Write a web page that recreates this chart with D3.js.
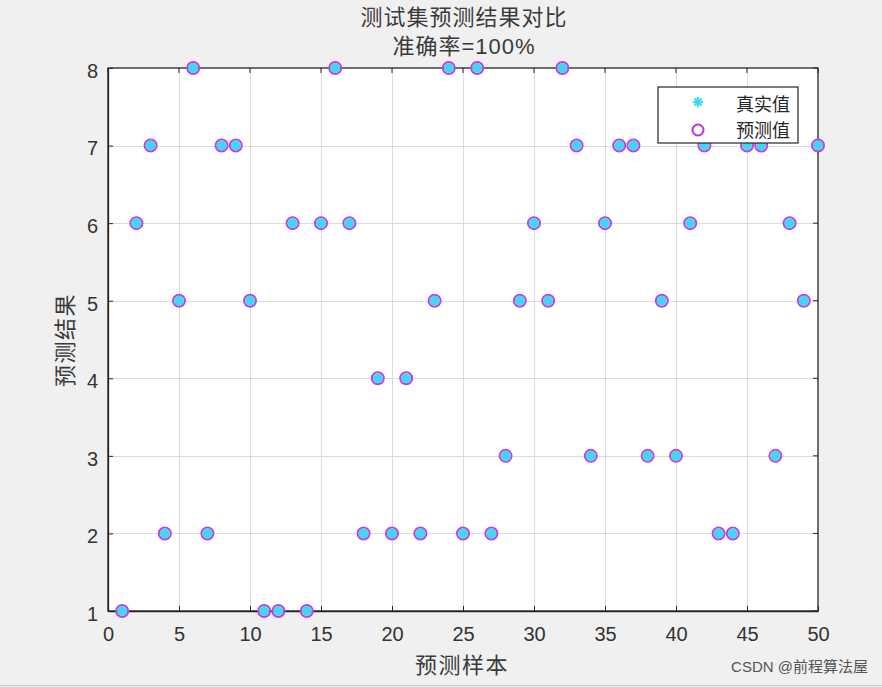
<!DOCTYPE html>
<html><head><meta charset="utf-8">
<script src="https://cdn.jsdelivr.net/npm/d3@7"></script>
<style>
body{margin:0;background:#f0f0f0;}
svg{display:block;}
</style></head>
<body><svg id="c" width="882" height="687"></svg>
<script>
const sampleIdx = d3.range(1, 51);
const trueVals = [1,6,7,2,5,8,2,7,7,5,1,1,6,1,6,8,6,2,4,2,4,2,5,8,2,8,2,3,5,6,5,8,7,3,6,7,7,3,5,3,6,7,2,2,7,7,3,6,5,7];
const predVals = [1,6,7,2,5,8,2,7,7,5,1,1,6,1,6,8,6,2,4,2,4,2,5,8,2,8,2,3,5,6,5,8,7,3,6,7,7,3,5,3,6,7,2,2,7,7,3,6,5,7];
const xTicks = [0,5,10,15,20,25,30,35,40,45,50];
const yTicks = [1,2,3,4,5,6,7,8];
const titleLines = ["测试集预测结果对比", "准确率=100%"];
const legendLabels = ["真实值", "预测值"];

const svg = d3.select("#c");
const L=108, R=818, T=68, B=611;
const x = d3.scaleLinear().domain([0,50]).range([L,R]);
const y = d3.scaleLinear().domain([1,8]).range([B,T]);
const font = "Arial, 'Liberation Sans', 'Noto Sans CJK SC', sans-serif";

svg.append("rect").attr("x",0).attr("y",0).attr("width",882).attr("height",687).attr("fill","#f0f0f0");
svg.append("line").attr("x1",0).attr("x2",882).attr("y1",685.5).attr("y2",685.5).attr("stroke","#c8c8c8");
svg.append("rect").attr("x",L).attr("y",T).attr("width",R-L).attr("height",B-T).attr("fill","#fff");

// grid
const g = svg.append("g");
g.selectAll(".gx").data(xTicks.slice(1,-1)).enter().append("line")
 .attr("x1",d=>x(d)+0.5).attr("x2",d=>x(d)+0.5).attr("y1",T).attr("y2",B).attr("stroke","#dcdcdc");
g.selectAll(".gy").data(yTicks.slice(1,-1)).enter().append("line")
 .attr("y1",d=>Math.round(y(d))+0.5).attr("y2",d=>Math.round(y(d))+0.5).attr("x1",L).attr("x2",R).attr("stroke","#dcdcdc");

// axes
const xa = svg.append("g").attr("transform",`translate(0,${B})`)
 .call(d3.axisBottom(x).tickValues(xTicks).tickFormat(d3.format("d")).tickSizeInner(-5).tickSizeOuter(0).tickPadding(16));
const ya = svg.append("g").attr("transform",`translate(${L},0)`)
 .call(d3.axisLeft(y).tickValues(yTicks).tickFormat(d3.format("d")).tickSizeInner(-5).tickSizeOuter(0).tickPadding(10));
[xa,ya].forEach(a=>{
 a.select(".domain").attr("stroke","#262626").attr("stroke-width",1.3);
 a.selectAll(".tick line").attr("stroke","#262626");
 a.selectAll(".tick text").attr("font-family",font).attr("font-size",20).attr("fill","#333");
});
ya.selectAll(".tick text").attr("dy","0.47em");
// top/right ticks + frame
svg.append("rect").attr("x",L).attr("y",T).attr("width",R-L).attr("height",B-T)
 .attr("fill","none").attr("stroke","#262626").attr("stroke-width",1.3);
svg.selectAll(".tt").data(xTicks).enter().append("line")
 .attr("x1",d=>x(d)).attr("x2",d=>x(d)).attr("y1",T).attr("y2",T+5).attr("stroke","#262626");
svg.selectAll(".rt").data(yTicks).enter().append("line")
 .attr("y1",d=>y(d)).attr("y2",d=>y(d)).attr("x1",R).attr("x2",R-5).attr("stroke","#262626");

// points
const pts = svg.append("g");
pts.selectAll(".p").data(predVals).enter().append("circle")
 .attr("cx",(d,i)=>x(sampleIdx[i])).attr("cy",d=>y(d)).attr("r",6)
 .attr("fill","none").attr("stroke","#c040e0").attr("stroke-width",2);
pts.selectAll(".t").data(trueVals).enter().append("circle")
 .attr("cx",(d,i)=>x(sampleIdx[i])).attr("cy",d=>y(d)).attr("r",5)
 .attr("fill","#40d8f0");

// titles
svg.selectAll(".ti").data(titleLines).enter().append("text")
 .attr("x",(L+R)/2+1).attr("y",(d,i)=>25+i*29).attr("text-anchor","middle")
 .attr("font-family",font).attr("font-size",22).attr("letter-spacing",1).attr("fill","#3a3a3a").text(d=>d);
svg.append("text").attr("x",(L+R)/2-1).attr("y",673).attr("text-anchor","middle")
 .attr("font-family",font).attr("font-size",22).attr("letter-spacing",1.5).attr("fill","#3a3a3a").text("预测样本");
svg.append("text").attr("transform",`translate(73,${340}) rotate(-90)`).attr("text-anchor","middle")
 .attr("font-family",font).attr("font-size",22).attr("letter-spacing",1.5).attr("fill","#3a3a3a").text("预测结果");

// legend
const lg = svg.append("g");
lg.append("rect").attr("x",658).attr("y",87).attr("width",140).attr("height",56)
 .attr("fill","#fff").attr("stroke","#262626").attr("stroke-width",1.2);
const ast = lg.append("g").attr("transform","translate(698,102)");
[0,45,90,135].forEach(a=>{
 ast.append("line").attr("x1",-5).attr("x2",5).attr("y1",0).attr("y2",0)
  .attr("transform",`rotate(${a})`).attr("stroke","#30e0f0").attr("stroke-width",2);
});
lg.append("circle").attr("cx",698).attr("cy",130).attr("r",5.5).attr("fill","none").attr("stroke","#c030d0").attr("stroke-width",2);
lg.selectAll(".lt").data(legendLabels).enter().append("text")
 .attr("x",736).attr("y",(d,i)=>111+i*26).attr("font-family",font).attr("font-size",18).attr("fill","#262626").text(d=>d);

// watermark
svg.append("text").attr("x",868).attr("y",672).attr("text-anchor","end")
 .attr("font-family",font).attr("font-size",15).attr("fill","#555").text("CSDN @前程算法屋");
</script></body></html>
